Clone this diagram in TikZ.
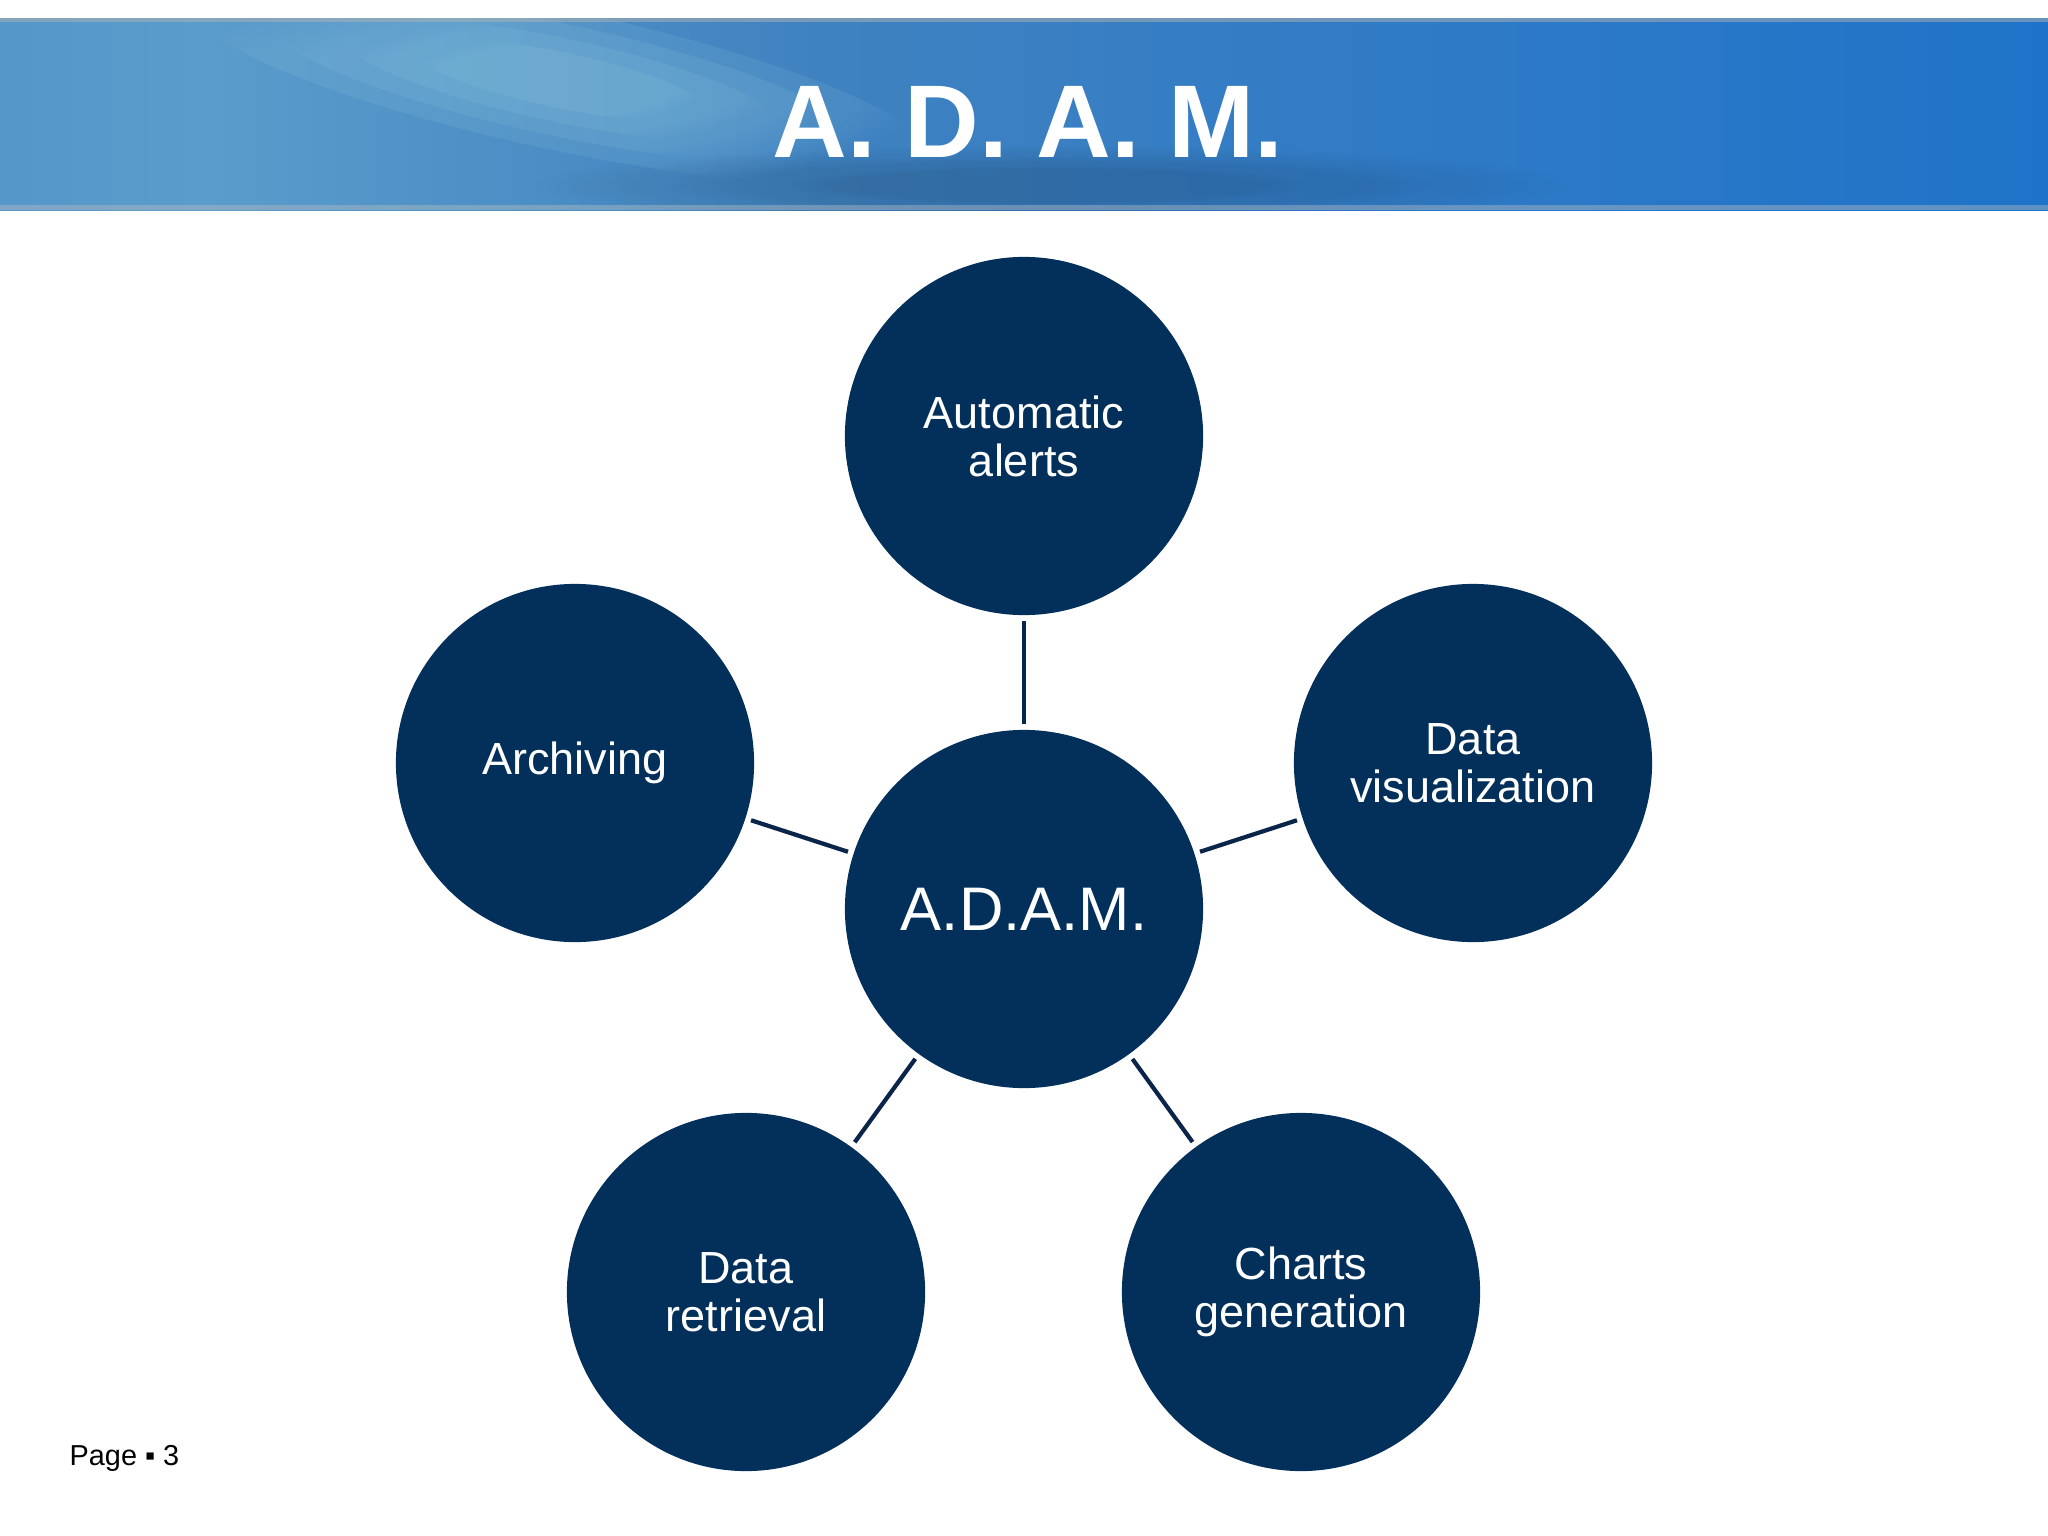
\documentclass[tikz,border=0pt]{standalone}
\usepackage{fontspec}
\setmainfont{Liberation Sans}
\usetikzlibrary{fadings}
\definecolor{navy}{HTML}{03305A}
\definecolor{linecol}{HTML}{0A2549}
\definecolor{bsa}{HTML}{3A7FC0}
\definecolor{bsb}{HTML}{4A8CC6}
\definecolor{bsc}{HTML}{5A9CCB}
\definecolor{bsd}{HTML}{3F82C0}
\definecolor{bse}{HTML}{2A78C8}
\definecolor{bsf}{HTML}{126EC8}
\definecolor{bsg}{HTML}{0668C6}
\definecolor{glow}{HTML}{9FD4E4}
\pgfdeclarehorizontalshading{bandshade}{100bp}{
  color(0bp)=(bsa);
  color(15bp)=(bsb);
  color(30bp)=(bsc);
  color(45bp)=(bsd);
  color(65bp)=(bse);
  color(85bp)=(bsf);
  color(100bp)=(bsg)}
\tikzset{
  bubble/.style={circle, fill=navy, draw=none, minimum size=3.58cm, inner sep=0pt, outer sep=0pt,
    text=white, align=center, font=\fontsize{12.8}{13.6}\selectfont},
  hub/.style={bubble, font=\fontsize{17.5}{20}\selectfont},
  link/.style={draw=linecol, line width=1.2pt, shorten <=0.06cm, shorten >=0.06cm},
  softglow/.style={fill=glow, path fading=circle with fuzzy edge 20 percent}
}
\begin{document}
\begin{tikzpicture}[x=0.01cm, y=-0.01cm]
\useasboundingbox (0,0) rectangle (2048,1536);
\fill[white] (0,0) rectangle (2048,1536);
% header band
\begin{scope}
\clip (0,18) rectangle (2048,210);
\shade[shading=bandshade] (0,18) rectangle (2048,210);
\foreach \s in {1.0,0.8,0.6,0.4}{
  \fill[softglow, opacity=0.12, rotate around={-12:(560,80)}] (560,80) ellipse ({380*\s} and {70*\s});
}
\foreach \s in {1.0,0.75,0.5}{
  \fill[black, opacity=0.05, path fading=circle with fuzzy edge 20 percent] (1050,185) ellipse ({520*\s} and {40*\s});
}
\end{scope}
\fill[gray!60, opacity=0.5] (0,18) rectangle (2048,22);
\fill[gray!50, opacity=0.4] (0,205) rectangle (2048,210);
\node[anchor=base, text=white, font=\bfseries\fontsize{29.4}{32}\selectfont, inner sep=0pt] (title) at (1028,157) {A. D. A. M.};
% nodes
\node[hub] (c) at (1024,909) {A.D.A.M.};
\node[bubble] (t) at (1024,436) {Automatic\\alerts};
\node[bubble] (l) at (575,763) {Archiving};
\node[bubble] (r) at (1473,763) {Data\\visualization};
\node[bubble] (bl) at (746,1292) {Data\\retrieval};
\node[bubble] (br) at (1301,1292) {Charts\\generation};
% links
\draw[link] (c) -- (t);
\draw[link] (c) -- (l);
\draw[link] (c) -- (r);
\draw[link] (c) -- (bl);
\draw[link] (c) -- (br);
% page label
\node[anchor=west, inner sep=0pt, font=\fontsize{8.2}{9.8}\selectfont] (page) at (69,1458) {Page ▪ 3};
\end{tikzpicture}
\end{document}
